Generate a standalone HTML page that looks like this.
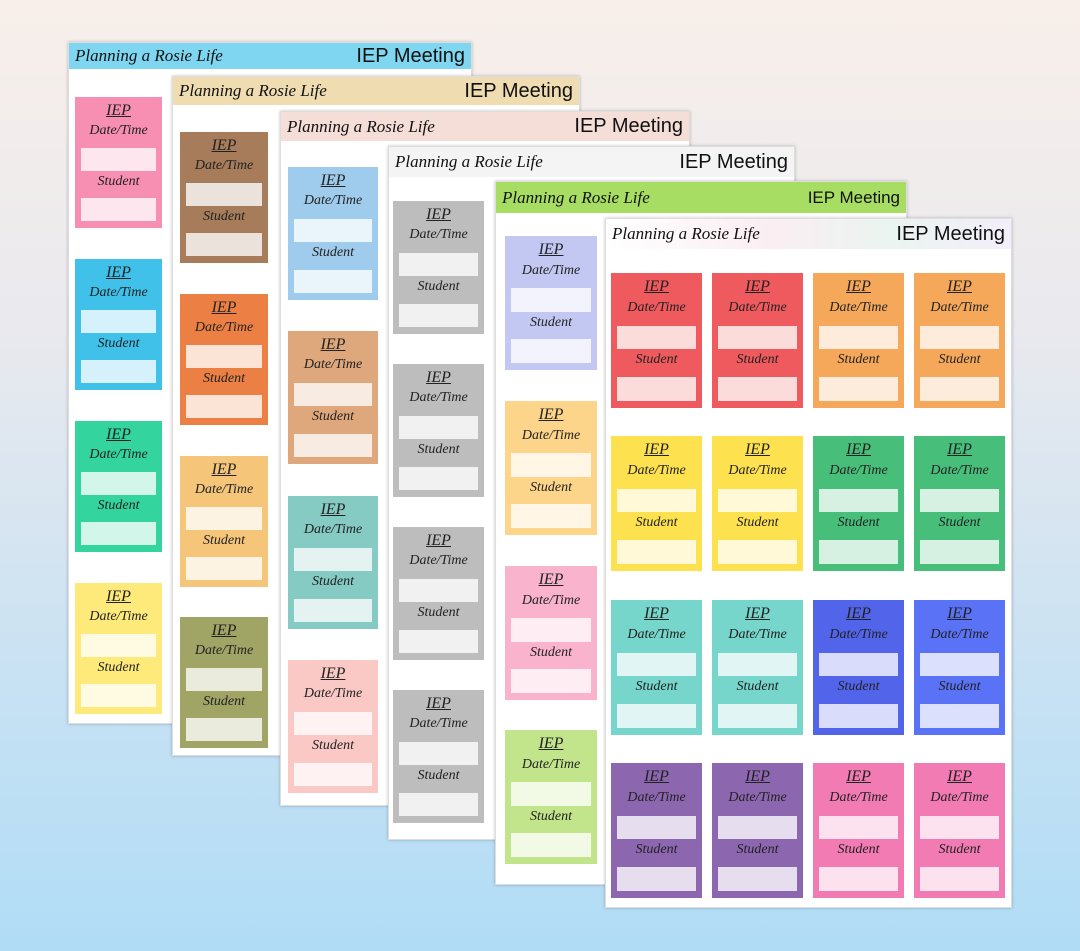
<!DOCTYPE html>
<html>
<head>
<meta charset="utf-8">
<style>
  html,body{margin:0;padding:0;}
  body{width:1080px;height:951px;overflow:hidden;position:relative;
    background:linear-gradient(to bottom,#f8efea 0%,#e9e9ee 35%,#c9e2f3 70%,#b0dcf6 100%);
    font-family:"Liberation Sans",sans-serif;}
  .sheet{position:absolute;background:#fff;box-shadow:0 0 3px rgba(0,0,0,0.25);border:1px solid #ddd;box-sizing:border-box;}
  .hdr{position:absolute;left:0;top:0;right:0;display:flex;justify-content:space-between;align-items:center;padding:0 6px;box-sizing:border-box;}
  .brand{font-family:"Liberation Serif",serif;font-style:italic;font-size:17px;color:#111;}
  .ttl{font-family:"Liberation Sans",sans-serif;font-size:20px;color:#111;}
  .stk{position:absolute;box-sizing:border-box;}
  .lbl{position:absolute;left:0;right:0;text-align:center;font-family:"Liberation Serif",serif;font-style:italic;color:#222;font-size:14px;}
  .iep{text-decoration:underline;font-size:16px;}
  .box{position:absolute;background:rgba(255,255,255,0.78);}
</style>
</head>
<body>
<script>
const sheetX=[68,172,280,388,495,605];
const sheetY=[42,76,111,146,181,218];
const sheetW=[404,408,410,407,412,407];
const sheetH=[682,680,695,694,704,690];
const hdrH=[26,28,29,30,31,30];
const hdrColors=['#7fd6f0','#efdcb0','#f5ddd8','#f4f4f4','#a7dd62','linear-gradient(90deg,#fff 0%,#fbeef2 40%,#eaf4f0 70%,#f3eefb 100%)'];
const titleSize=[20,20,20,20,17,20];
// left-column stickers of sheets 1-5
const colX=[75,180,288,393,505];
const colW=[87,88,90,91,92];
const colH=[131,131,133,133,134];
const colRows=[[97,259,421,583],[132,294,456,617],[167,331,496,660],[201,364,527,690],[236,401,566,730]];
const colColors=[['#f78fb3','#3fc1ea','#33d49e','#fdea7a'],['#a67c5b','#ec8044','#f5c67a','#a0a565'],['#9fcbec','#dfa77c','#85cac3','#fbc9c5'],['#bdbdbd','#bdbdbd','#bdbdbd','#bdbdbd'],['#c3c8f2','#fdd58a','#f9b3cd','#c2e58b']];
// last sheet grid
const gridX=[611,712,813,914];
const gridY=[273,436,600,763];
const gridColors=[['#ef5a5e','#ef5a5e','#f5a85a','#f5a85a'],['#fde14e','#fde14e','#47bf7a','#47bf7a'],['#76d6cc','#76d6cc','#5265ea','#5a72f5'],['#8c67b0','#8c67b0','#f27bb4','#f27bb4']];

function sticker(x,y,w,h,c){
  const s=document.createElement('div');
  s.className='stk';
  
  
  s.style.cssText=`left:${x}px;top:${y}px;width:${w}px;height:${h}px;background:${c};`;
  const k=h/131;
  const parts=[['IEP',5,'iep'],['Date/Time',26,''],['Student',77,'']];
  parts.forEach(p=>{
    const t=document.createElement('div');
    t.className='lbl '+p[2];
    
    
    t.style.top=(p[1]*k)+'px';
    t.textContent=p[0];
    s.appendChild(t);
  });
  [51,101].forEach(by=>{
    const b=document.createElement('div');
    b.className='box';
    
    
    b.style.cssText=`left:6px;right:6px;top:${by*k}px;height:${23*k}px;`;
    s.appendChild(b);
  });
  document.body.appendChild(s);
}

for(let i=0;i<6;i++){
  const sh=document.createElement('div');
  sh.className='sheet';
  
  
  sh.style.cssText=`left:${sheetX[i]}px;top:${sheetY[i]}px;width:${sheetW[i]}px;height:${sheetH[i]}px;`;
  const hd=document.createElement('div');
  hd.className='hdr';
  
  
  hd.style.height=hdrH[i]+'px';
  hd.style.background=hdrColors[i];
  const b=document.createElement('span');
  b.className='brand';
  
  
  b.textContent='Planning a Rosie Life';
  const t=document.createElement('span');
  t.className='ttl';
  
  
  t.style.fontSize=titleSize[i]+'px';
  t.textContent='IEP Meeting';
  hd.appendChild(b);hd.appendChild(t);
  sh.appendChild(hd);
  document.body.appendChild(sh);
  if(i<5){
    colRows[i].forEach((ry,j)=>sticker(colX[i],ry,colW[i],colH[i],colColors[i][j]));
  } else {
    gridY.forEach((gy,r)=>gridX.forEach((gx,c)=>sticker(gx,gy,91,135,gridColors[r][c])));
  }
}
</script>
</body>
</html>
